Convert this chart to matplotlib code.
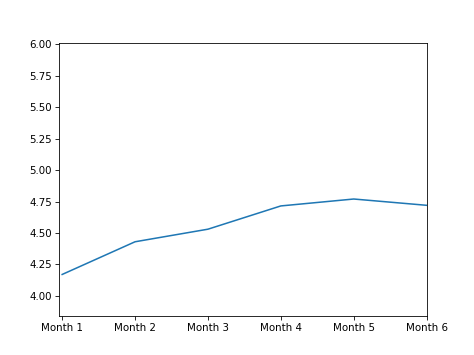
import matplotlib
matplotlib.use('Agg')
import matplotlib.pyplot as plt

months = ["Month 1", "Month 2", "Month 3", "Month 4", "Month 5", "Month 6"]
values = [4.17, 4.43, 4.53, 4.715, 4.77, 4.72]

fig, ax = plt.subplots(figsize=(474 / 74, 355 / 74), dpi=74)
ax.plot(months, values)
ax.set_xlim(-0.04, 5)
ax.set_ylim(3.84, 6.014)

plt.savefig("out.png", dpi=74)
plt.close()
